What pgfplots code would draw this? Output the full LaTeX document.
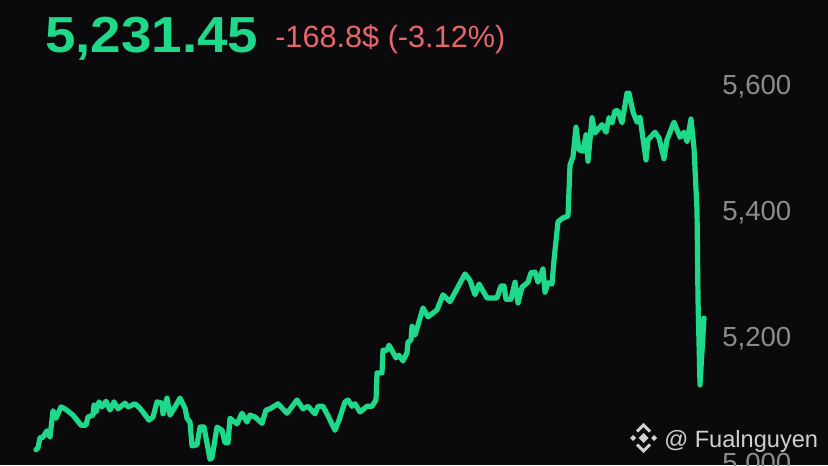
\documentclass[border=0pt]{standalone}
\usepackage{fontspec}
\setmainfont{Liberation Sans}
\newfontfamily\titlefont[FakeStretch=1.08]{Liberation Sans}
\usepackage{pgfplots}
\pgfplotsset{compat=1.18}
\definecolor{bgc}{HTML}{0A0A0D}
\definecolor{upc}{HTML}{1FD98A}
\definecolor{downc}{HTML}{E8666B}
\definecolor{tickc}{HTML}{8C8C8C}
\definecolor{markc}{HTML}{D0D0D0}
% x is the pixel column of the reference, y the index value
\pgfplotstableread{
x y
36 5021
38 5024
40 5040
43 5041
47 5051
50 5041
53 5083
56 5071
61 5089
65 5086
73 5076
81 5060
86 5060
88 5073
93 5076
94 5092
96 5081
99 5097
102 5089
106 5098
110 5084
114 5097
118 5086
125 5095
128 5089
135 5094
140 5087
149 5068
153 5073
157 5097
162 5095
163 5078
167 5103
170 5076
175 5089
180 5103
185 5087
187 5071
190 5065
192 5027
197 5029
200 5057
204 5057
210 5006
212 5008
217 5057
222 5052
225 5032
228 5032
230 5071
237 5062
242 5079
247 5065
250 5076
255 5073
262 5063
266 5084
270 5086
278 5094
287 5079
297 5100
303 5086
308 5090
315 5078
318 5090
323 5090
328 5075
331 5065
335 5052
339 5068
345 5097
348 5100
352 5090
355 5094
360 5081
367 5090
372 5090
376 5100
377 5143
382 5143
383 5179
387 5179
389 5187
396 5167
399 5171
403 5162
407 5175
408 5192
411 5195
412 5217
415 5203
418 5219
423 5246
428 5232
437 5243
443 5267
450 5256
465 5300
470 5290
475 5267
479 5284
487 5262
497 5262
501 5281
504 5281
506 5260
511 5260
515 5287
518 5254
522 5279
528 5287
531 5302
535 5303
538 5287
543 5308
545 5271
548 5286
552 5284
554 5322
558 5383
563 5389
568 5392
570 5473
573 5486
576 5533
579 5497
583 5495
586 5521
588 5479
592 5548
595 5524
602 5537
606 5525
609 5548
612 5540
615 5559
618 5559
622 5540
627 5587
629 5587
633 5557
637 5541
640 5549
646 5481
648 5513
655 5525
659 5516
664 5483
667 5513
674 5541
680 5517
684 5525
687 5510
691 5546
694 5500
697 5402
698 5259
700 5124
704 5230
}\closes
\begin{document}
\begin{tikzpicture}
\path[use as bounding box,fill=bgc] (0,0) rectangle (621pt,348.75pt);
\clip (0,0) rectangle (621pt,348.75pt);
\begin{axis}[
    at={(0,0)}, anchor=south west,
    scale only axis,
    width=621pt, height=348.75pt,
    xmin=0, xmax=828,
    ymin=4996.8, ymax=5734.9,
    axis line style={draw=none},
    xtick=\empty,
    ytick={5000,5200,5400,5600},
    major tick length=0pt,
    yticklabel pos=right,
    /pgf/number format/assume math mode=true,
    /pgf/number format/1000 sep={,},
    yticklabel style={text=tickc, font=\fontsize{20.7pt}{24pt}\selectfont, anchor=west, inner sep=0pt, xshift=-79.5pt, yshift=-1.2pt},
    clip=false,
]
\addplot[upc, line width=3.9pt, line join=round, line cap=round] table[x=x,y=y] {\closes};
\end{axis}
\begin{scope}[x=0.75pt,y=-0.75pt,yshift=348.75pt]
\node[anchor=base west,inner sep=0pt,text=upc,font=\titlefont\fontsize{38pt}{44pt}\selectfont\bfseries] at (45,53) {5,231.45};
\node[anchor=base west,inner sep=0pt,text=downc,font=\fontsize{23pt}{28pt}\selectfont] at (275,48) {-168.8\$ (-3.12\%)};
\node[anchor=base west,inner sep=0pt,text=markc,font=\fontsize{17.7pt}{20pt}\selectfont] at (664,447) {@ Fualnguyen};
% watermark logo
\fill[markc] (643.5,433) -- (648.5,438) -- (643.5,443) -- (638.5,438) -- cycle;
\fill[markc] (633,435) -- (636,438) -- (633,441) -- (630,438) -- cycle;
\fill[markc] (654,435) -- (657,438) -- (654,441) -- (651,438) -- cycle;
\draw[markc,line width=2.2pt] (637,431.5) -- (643.5,425) -- (650,431.5);
\draw[markc,line width=2.2pt] (637,444.5) -- (643.5,451) -- (650,444.5);
\end{scope}
\end{tikzpicture}
\end{document}
